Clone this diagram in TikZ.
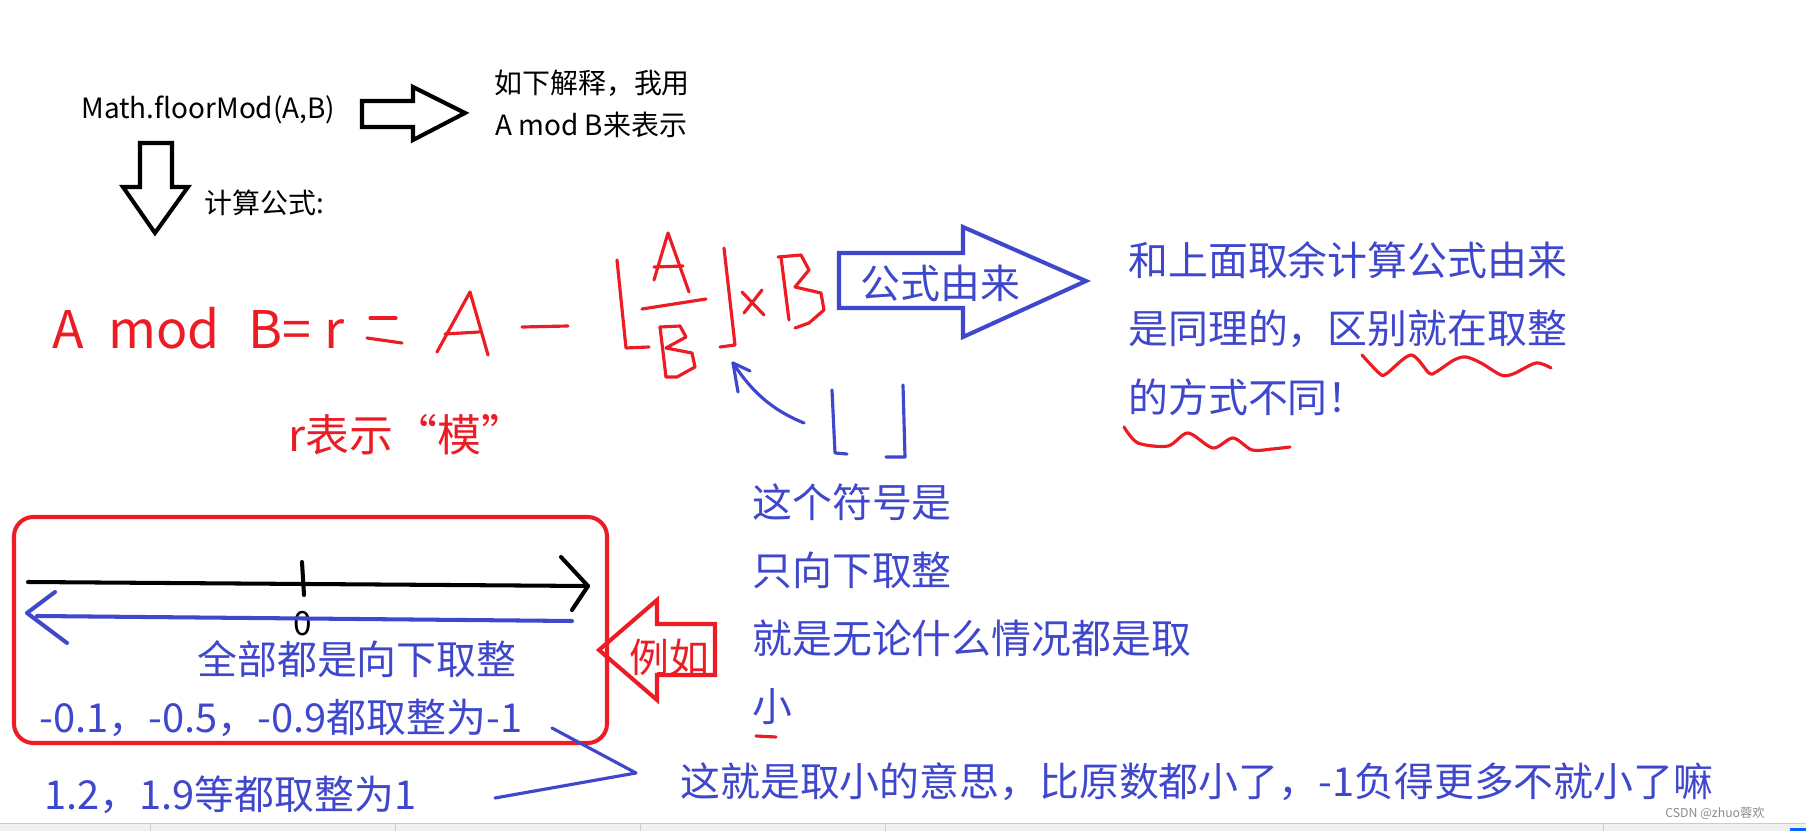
\documentclass[tikz,border=0pt]{standalone}
\usepackage{fontspec}
\setmainfont{Noto Sans CJK SC}
\usepackage{tikz}
\definecolor{penred}{RGB}{237,28,36}
\definecolor{penblue}{RGB}{63,72,204}

\begin{document}
\begin{tikzpicture}[x=0.02cm,y=-0.02cm,
	txt/.style={anchor=west,inner sep=0pt},
	blacktxt/.style={txt,font=\fontsize{15.9}{19}\selectfont},
	bluetxt/.style={txt,penblue,font=\fontsize{22.7}{27}\selectfont},
	redpen/.style={penred,line width=1.8pt,line cap=round,line join=round},
	bluepen/.style={penblue,line width=1.8pt,line cap=round,line join=round},
	hollow/.style={line width=2.3pt,line join=miter}]
\useasboundingbox (0,0) rectangle (1806,831);
\fill[white] (0,0) rectangle (1806,831);
\fill[black!6] (0,823) rectangle (1806,831);
\draw[black!20] (0,823) -- (1806,823);
\foreach \x in {150,395,640,885,1603}
	\draw[black!20] (\x,823) -- (\x,831);
\fill[blue!60!cyan] (1790,828) rectangle (1806,831);

\node[blacktxt] (call) at (81,110) {Math.floorMod(A,B)};
\node[blacktxt] (expl1) at (494,83) {如下解释，我用};
\node[blacktxt] (expl2) at (495,125) {A mod B来表示};
\node[blacktxt] (calc) at (204,203) {计算公式:};
\draw[hollow] (362,101) -- (413,101) -- (413,87) -- (465,113) -- (413,140) -- (413,127) -- (362,127) -- cycle;
\draw[hollow] (140,143) -- (172,143) -- (172,187) -- (188,187) -- (155,233) -- (123,187) -- (140,187) -- cycle;

\node[txt,penred,font=\fontsize{29.5}{34}\selectfont] (lhs) at (52,328) {A\hspace{14pt}mod\hspace{16pt}B=\hspace{8pt}r};
\node[txt,penred,font=\fontsize{25}{30}\selectfont] (rmean) at (288,435) {r表示“模”};
\draw[redpen] (370,318) -- (396,318);
\draw[redpen] (367,338) -- (402,343);
\draw[redpen] (437,352) -- (470,292) -- (488,355);
\draw[redpen] (445,334) -- (479,332);
\draw[redpen] (522,327) -- (568,326);
\draw[redpen] (617,260) -- (626,348) -- (649,347);
\draw[redpen] (654,280) -- (668,233) -- (689,292);
\draw[redpen] (654,267) -- (683,266);
\draw[redpen] (642,309) -- (706,299);
\draw[redpen] (660,327) -- (666,377);
\draw[redpen] (660,327) -- (680,326) -- (686,337) -- (666,348) -- (692,353) -- (695,367) -- (677,377) -- (666,377);
\draw[redpen] (724,248) -- (735,345) -- (720,347);
\draw[redpen] (742,292) -- (764,315);
\draw[redpen] (762,290) -- (744,313);
\draw[redpen] (781,257) -- (789,320);
\draw[redpen] (778,257) -- (801,255) -- (809,270) -- (795,287) -- (821,293) -- (824,310) -- (809,323) -- (795,328);

\draw[bluepen] (804,423) .. controls (772,410) and (752,392) .. (733,363);
\draw[bluepen] (733,363) -- (750,371);
\draw[bluepen] (733,363) -- (738,392);
\draw[bluepen] (832,390) -- (835,453) -- (847,454);
\draw[bluepen] (903,385) -- (905,457) -- (886,457);

\draw[hollow,penblue] (839,253) -- (963,253) -- (963,227) -- (1086,281) -- (963,337) -- (963,308) -- (839,308) -- cycle;
\node[bluetxt] (origin) at (860,283) {公式由来};
\node[bluetxt] (same1) at (1128,260) {和上面取余计算公式由来};
\node[bluetxt] (same2) at (1128,329) {是同理的，区别就在取整};
\node[bluetxt] (same3) at (1128,397) {的方式不同！};
\draw[redpen] plot[smooth] coordinates {(1362,355) (1379,373) (1386,374) (1411,355) (1429,373) (1436,372) (1454,360) (1466,357) (1481,363) (1501,375) (1513,374) (1536,363) (1551,368)};
\draw[redpen] plot[smooth] coordinates {(1124,427) (1138,443) (1168,446) (1188,433) (1213,448) (1233,438) (1252,450) (1272,449) (1290,447)};

\node[bluetxt] (sym1) at (752,502) {这个符号是};
\node[bluetxt] (sym2) at (752,570) {只向下取整};
\node[bluetxt] (sym3) at (752,638) {就是无论什么情况都是取};
\node[bluetxt] (sym4) at (752,707) {小};
\draw[redpen] (756,736) -- (776,737);
\node[bluetxt] (smaller) at (680,782) {这就是取小的意思，比原数都小了，-1负得更多不就小了嘛};

\draw[penred,line width=2.3pt,rounded corners=11pt] (14,517) rectangle (607,743);
\draw[line width=2.3pt,line cap=round] (28,582) -- (588,586);
\draw[line width=2.3pt,line cap=round,line join=round] (561,557) -- (588,586) -- (572,610);
\draw[line width=2.3pt,line cap=round] (302,562) -- (304,595);
\node[font=\fontsize{19}{22}\selectfont,inner sep=0pt] (zero) at (303,624) {0};
\draw[bluepen,line width=2.3pt] (572,621) -- (37,616);
\draw[bluepen,line width=2.3pt] (55,592) -- (27,613) -- (67,643);
\node[bluetxt] (alldown) at (197,659) {全部都是向下取整};
\node[bluetxt] (negs) at (39,718) {-0.1，-0.5，-0.9都取整为-1};
\node[bluetxt] (poss) at (44,795) {1.2，1.9等都取整为1};
\draw[bluepen] (552,728) -- (636,773) -- (495,798);

\draw[hollow,penred] (715,624) -- (657,624) -- (657,600) -- (599,650) -- (657,700) -- (657,675) -- (715,675) -- cycle;
\node[txt,penred,font=\fontsize{22.7}{27}\selectfont] (eg) at (629,657) {例如};

\node[txt,black!45,font=\fontsize{7}{8}\selectfont] (mark) at (1665,813) {CSDN @zhuo蓉欢};
\end{tikzpicture}
\end{document}
